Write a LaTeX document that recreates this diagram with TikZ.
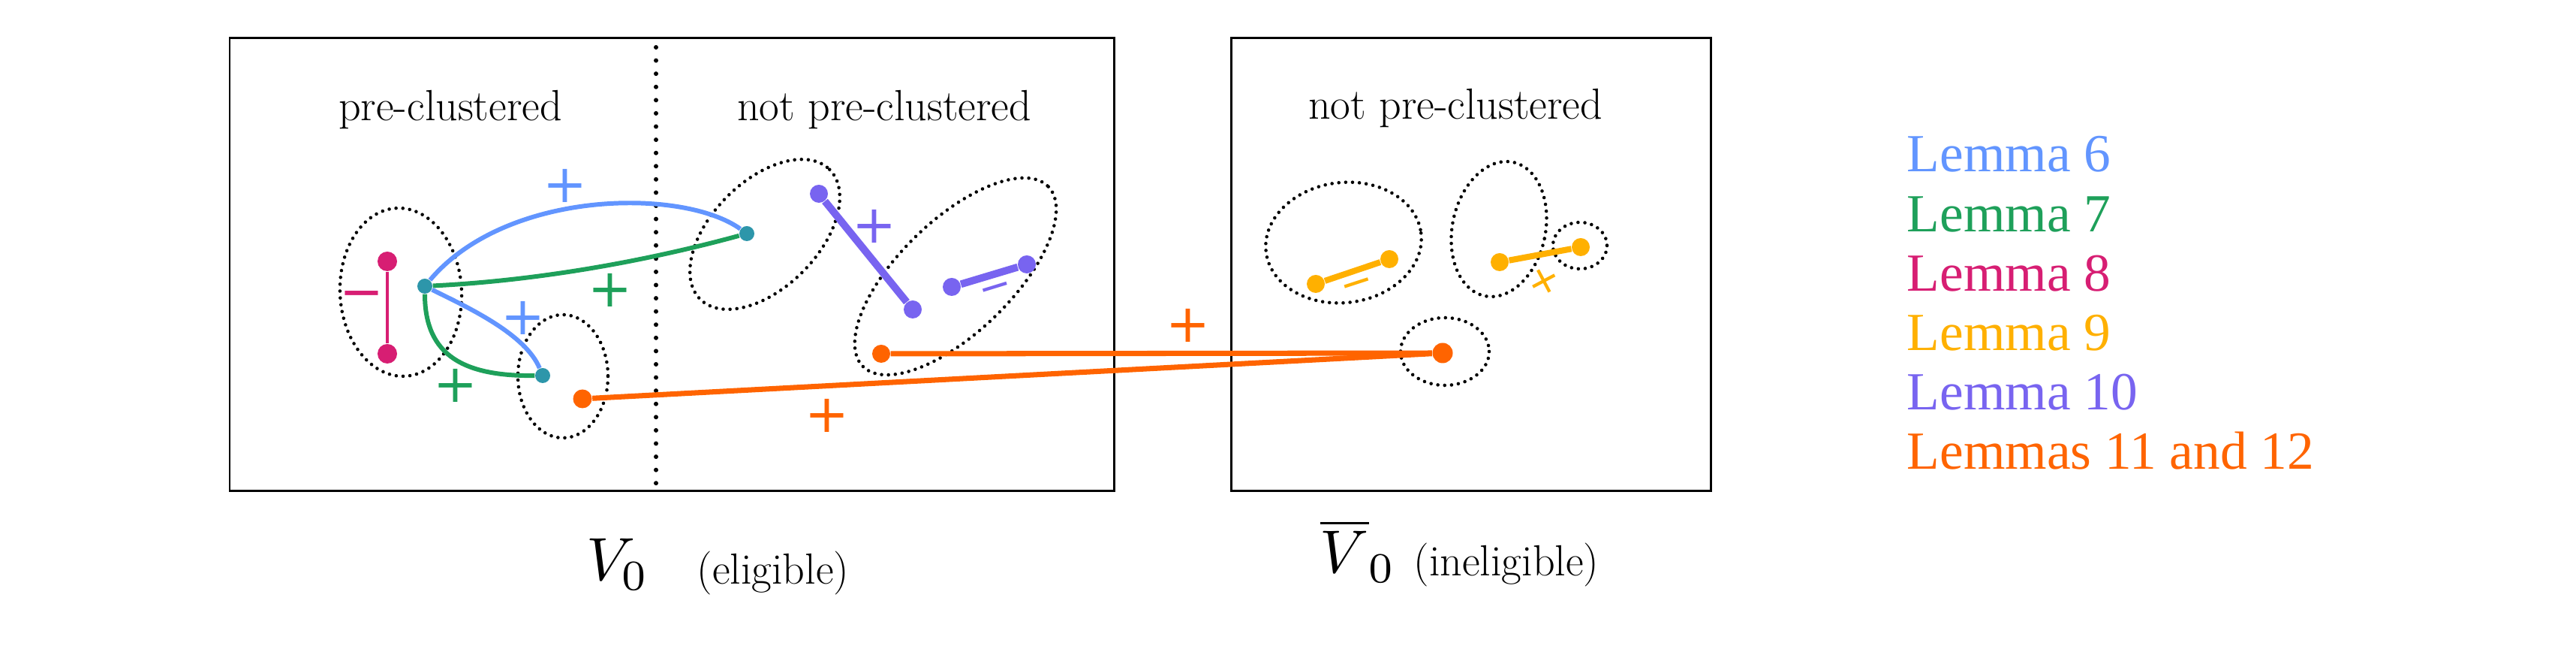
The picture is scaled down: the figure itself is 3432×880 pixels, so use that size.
\documentclass[tikz,border=0pt]{standalone}
\usepackage{fontspec}
\newfontfamily\legendfont{Liberation Serif}
\newfontfamily\signfont{DejaVu Sans}
\usetikzlibrary{positioning}

\definecolor{lemsix}{RGB}{98,149,255}
\definecolor{lemseven}{RGB}{30,160,90}
\definecolor{lemeight}{RGB}{215,30,115}
\definecolor{lemnine}{RGB}{255,176,0}
\definecolor{lemten}{RGB}{120,100,240}
\definecolor{lemeleven}{RGB}{255,100,0}
\definecolor{hubcol}{RGB}{45,150,170}

\tikzstyle{frame} = [draw, line width=0.85pt]
\tikzstyle{divider} = [draw, line width=1.7pt, line cap=round, dash pattern=on 0pt off 5pt]
\tikzstyle{cluster} = [draw, line width=1.3pt, line cap=round, dash pattern=on 0pt off 2.6pt]
\tikzstyle{vertex} = [circle, inner sep=0pt, minimum size=0.24cm]
\tikzstyle{edge} = [draw, line width=1.7pt]
\tikzstyle{sign} = [inner sep=0pt, font=\signfont\fontsize{20}{20}\selectfont]
\tikzstyle{smallsign} = [inner sep=0pt, font=\signfont\fontsize{15}{15}\selectfont]
\tikzstyle{region} = [anchor=base, inner sep=0pt, font=\fontsize{16.5}{19}\selectfont]
\tikzstyle{setname} = [anchor=base west, inner sep=0pt, scale=2.3]
\tikzstyle{legend} = [anchor=base west, inner sep=0pt,
    font=\legendfont\fontsize{20.3}{24}\selectfont]

\begin{document}
\begin{tikzpicture}[x=0.01cm, y=-0.01cm]
  \useasboundingbox (0,0) rectangle (3432,880);

  % Boxes
  \draw [frame] (306,51) rectangle (1484,654);
  \draw [frame] (1640,51) rectangle (2279,654);
  \draw [divider] (874,63) -- (874,646);

  \node [region] (pre) at (600,161) {pre-clustered};
  \node [region] (notpre) at (1178,161) {not pre-clustered};
  \node [region] (notprebar) at (1939,159) {not pre-clustered};

  % Clusters
  \draw [cluster] (534,389) ellipse [x radius=81, y radius=112, rotate=3];
  \draw [cluster] (750,501) ellipse [x radius=60, y radius=82];
  \draw [cluster] (1019,312) ellipse [x radius=122, y radius=71, rotate=45];
  \draw [cluster] (1273,368) ellipse [x radius=172, y radius=75, rotate=44];
  \draw [cluster] (1790,323) ellipse [x radius=104, y radius=80, rotate=7];
  \draw [cluster] (1997,305) ellipse [x radius=62, y radius=91, rotate=-12];
  \draw [cluster] (2105,327) ellipse [x radius=36, y radius=31];
  \draw [cluster] (1925,468) ellipse [x radius=59, y radius=45];

  % Place nodes
  \node [vertex, fill=lemeight, minimum size=0.26cm] (m1) at (516,348) {};
  \node [vertex, fill=lemeight, minimum size=0.26cm] (m2) at (516,471) {};
  \node [vertex, fill=hubcol, minimum size=0.2cm] (hub) at (566,381) {};
  \node [vertex, fill=hubcol, minimum size=0.2cm] (t1) at (995,311) {};
  \node [vertex, fill=hubcol, minimum size=0.2cm] (t2) at (723,500) {};
  \node [vertex, fill=lemeleven, minimum size=0.25cm] (o1) at (776,531) {};
  \node [vertex, fill=lemeleven, minimum size=0.24cm] (o2) at (1174,471) {};
  \node [vertex, fill=lemeleven, minimum size=0.27cm] (o3) at (1922,470) {};
  \node [vertex, fill=lemten] (p1) at (1091,258) {};
  \node [vertex, fill=lemten] (p2) at (1216,412) {};
  \node [vertex, fill=lemten] (p3) at (1268,382) {};
  \node [vertex, fill=lemten] (p4) at (1368,352) {};
  \node [vertex, fill=lemnine] (y1) at (1753,378) {};
  \node [vertex, fill=lemnine] (y2) at (1851,345) {};
  \node [vertex, fill=lemnine] (y3) at (1998,349) {};
  \node [vertex, fill=lemnine] (y4) at (2106,329) {};

  % Edges
  \path [edge, lemeight, line width=1.3pt] (m1) -- (m2);
  \path [edge, lemsix] (hub) .. controls (675,252) and (910,250) .. (t1);
  \path [edge, lemseven] (hub) .. controls (709,374) and (852,350) .. (t1);
  \path [edge, lemsix] (hub) .. controls (625,410) and (700,445) .. (t2);
  \path [edge, lemseven] (hub) .. controls (566,475) and (620,501) .. (t2);
  \path [edge, lemten, line width=2.8pt] (p1) -- (p2);
  \path [edge, lemten, line width=2.8pt] (p3) -- (p4);
  \path [edge, lemnine, line width=2.3pt] (y1) -- (y2);
  \path [edge, lemnine, line width=2.3pt] (y3) -- (y4);
  \path [edge, lemeleven, line width=2pt] (o1) -- (o3);
  \path [edge, lemeleven, line width=2pt] (o2) -- (o3);

  % Signs
  \node [sign, lemeight] (minuseight) at (482,400) {−};
  \node [sign, lemsix] (plussixa) at (753,247) {+};
  \node [sign, lemsix] (plussixb) at (697,423) {+};
  \node [sign, lemseven] (plussevena) at (813,386) {+};
  \node [sign, lemseven] (plussevenb) at (607,513) {+};
  \node [sign, lemten] (plusten) at (1165,301) {+};
  \node [smallsign, lemten, rotate=17] (minusten) at (1328,389) {−};
  \node [smallsign, lemnine, rotate=18] (minusnine) at (1810,384) {−};
  \node [smallsign, lemnine, rotate=28] (plusnine) at (2057,375) {+};
  \node [sign, lemeleven] (pluselevena) at (1102,553) {+};
  \node [sign, lemeleven] (pluselevenb) at (1583,433) {+};

  % Sets
  \node [setname] (vzero) at (780,773) {$V_0$};
  \node [region, anchor=base west] (elig) at (928,778) {(eligible)};
  \node [setname] (vzerobar) at (1757,763) {$\overline{V}_0$};
  \node [region, anchor=base west] (inelig) at (1883,767) {(ineligible)};

  % Legend
  \node [legend, lemsix] (lemmasix) at (2540,229) {Lemma 6};
  \node [legend, lemseven, below=0.79cm of lemmasix.base west, anchor=base west] (lemmaseven) {Lemma 7};
  \node [legend, lemeight, below=0.79cm of lemmaseven.base west, anchor=base west] (lemmaeight) {Lemma 8};
  \node [legend, lemnine, below=0.79cm of lemmaeight.base west, anchor=base west] (lemmanine) {Lemma 9};
  \node [legend, lemten, below=0.79cm of lemmanine.base west, anchor=base west] (lemmaten) {Lemma 10};
  \node [legend, lemeleven, below=0.79cm of lemmaten.base west, anchor=base west] (lemmaeleven) {Lemmas 11 and 12};

\end{tikzpicture}
\end{document}
